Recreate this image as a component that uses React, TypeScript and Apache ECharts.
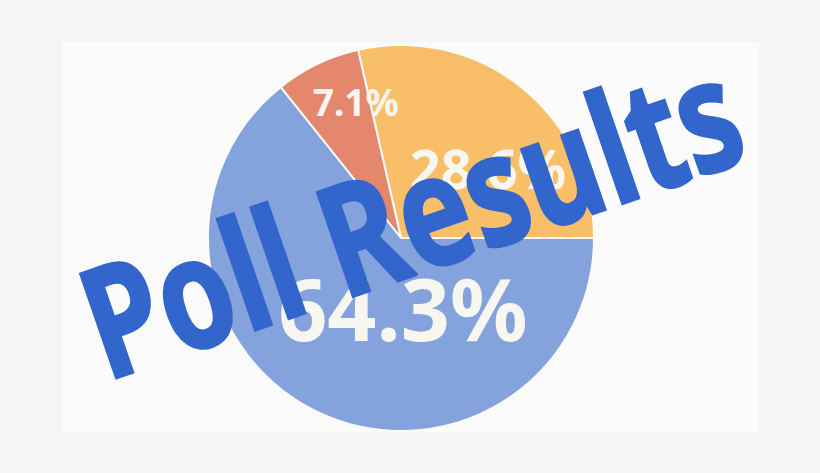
import React, { useEffect, useRef } from 'react';
import * as echarts from 'echarts';

// poll answers (14 votes)
const answers = ['A', 'B', 'C'];
const votes = [4, 1, 9];
const sliceColors = ['#f9bf68', '#e5876d', '#84a2db'];
// label nudges away from the default inside position
const labelShift = [
  [25, 8],
  [-2, -47],
  [45, -20]
];
const labelSizes = [54, 37, 86];
const title = 'Poll Results';

const App: React.FC = () => {
  const chartRef = useRef<HTMLDivElement>(null);

  useEffect(() => {
    if (!chartRef.current) return;
    const chart = echarts.init(chartRef.current, null, { renderer: 'svg' });

    chart.setOption({
      animation: false,
      backgroundColor: '#f5f5f5',
      graphic: [
        {
          type: 'rect',
          z: -10,
          shape: { x: 62, y: 42, width: 697, height: 390 },
          style: { fill: '#fbfbfb' }
        },
        {
          // big rotated, narrowed title drawn over the pie
          type: 'text',
          z: 100,
          x: 410,
          y: 213,
          rotation: (19 * Math.PI) / 180,
          scaleX: 1,
          scaleY: 1.3,
          style: {
            text: title,
            fill: '#3366cc',
            stroke: '#3366cc',
            lineWidth: 2,
            font: 'bold 119px "Noto Sans", sans-serif',
            align: 'center',
            verticalAlign: 'middle'
          }
        }
      ],
      series: [
        {
          type: 'pie',
          center: [401, 238],
          radius: 193,
          startAngle: 0,
          clockwise: false,
          percentPrecision: 1,
          silent: true,
          itemStyle: { borderColor: '#fbfbfb', borderWidth: 2 },
          label: {
            show: true,
            position: 'inside',
            formatter: '{d}%',
            color: '#f8f6f0',
            fontFamily: '"Noto Sans", sans-serif',
            fontWeight: 'bold'
          },
          labelLine: { show: false },
          labelLayout: (params: any) => ({
            dx: labelShift[params.dataIndex][0],
            dy: labelShift[params.dataIndex][1]
          }),
          data: answers.map((name, i) => ({
            name,
            value: votes[i],
            itemStyle: { color: sliceColors[i] },
            label: { fontSize: labelSizes[i] }
          }))
        }
      ]
    });

    return () => {
      chart.dispose();
    };
  }, []);

  return (
    <div
      ref={chartRef}
      style={{ position: 'absolute', left: 0, top: 0, width: 820, height: 473 }}
    />
  );
};

export default App;
